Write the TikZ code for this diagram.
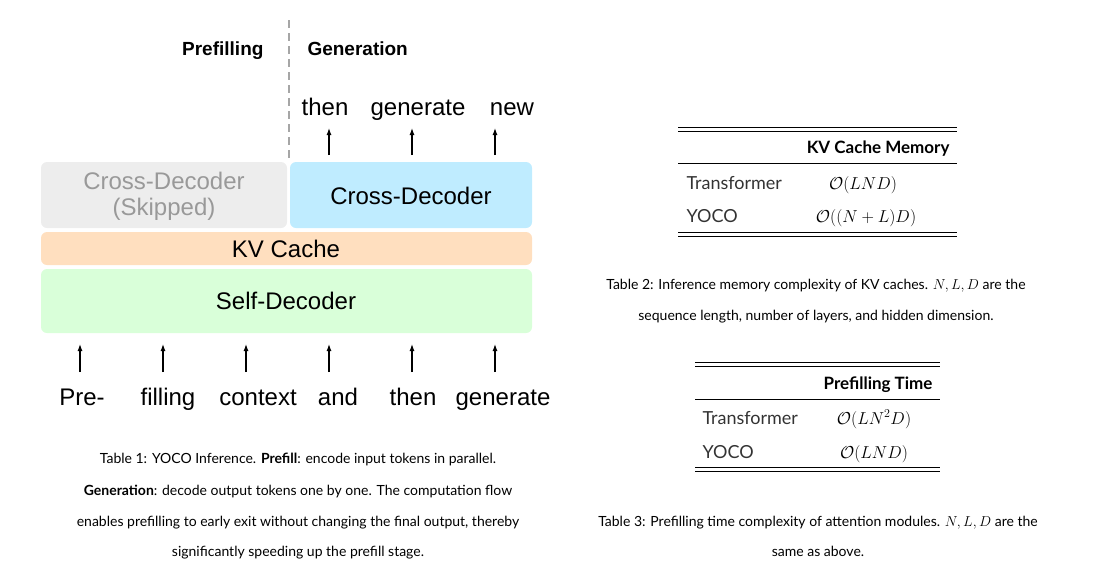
\documentclass[tikz,border=0pt]{standalone}
\usetikzlibrary{arrows.meta}
\usepackage{fontspec}
\setmainfont{Lato}
\newfontfamily\arial{Liberation Sans}
\begin{document}
\begin{tikzpicture}[x=1pt,y=-1pt,
  dtxt/.style={font=\arial\fontsize{24}{26}\selectfont},
  wtxt/.style={font=\arial\fontsize{24}{26}\selectfont,anchor=base},
  captxt/.style={font=\fontsize{14}{16}\selectfont,anchor=base},
  ttxt/.style={font=\fontsize{18}{20}\selectfont,anchor=base},
  arr/.style={-{Latex[length=7pt,width=5pt]},line width=1.2pt}]
\useasboundingbox (0,0) rectangle (1097,582);
% boxes
\fill[fill=black!7,rounded corners=6pt] (41,162) rectangle (287,228);
\node[dtxt,text=black!40,align=center] (skip) at (164,196) {Cross-Decoder\\(Skipped)};
\fill[fill=blue!30!cyan!25!white,rounded corners=6pt] (290,162) rectangle (532,228);
\node[dtxt] (cross) at (411,196) {Cross-Decoder};
\fill[fill=orange!25!white,rounded corners=6pt] (41,232) rectangle (532,265);
\node[dtxt] (kv) at (286,249) {KV Cache};
\fill[fill=green!15!white,rounded corners=6pt] (41,269) rectangle (532,333);
\node[dtxt] (self) at (286,301) {Self-Decoder};
\draw[gray!70,line width=1.5pt,dash pattern=on 8pt off 5pt] (289,20) -- (289,160);
\node[font=\arial\bfseries\fontsize{19}{20}\selectfont,anchor=base east] (pf) at (267,55) {Prefilling};
\node[font=\arial\bfseries\fontsize{19}{20}\selectfont,anchor=base west] (gen) at (304,55) {Generation};
% bottom words
\foreach \n/\x/\w in {a/82/Pre-,b/168/filling,c/258/context,d/338/and,e/413/then,f/503/generate}
  \node[wtxt] (w\n) at (\x,405) {\w};
\foreach \x in {80,163,246,329,412,495}
  \draw[arr] (\x,372) -- (\x,344);
% top words
\foreach \n/\x/\w in {a/325/then,b/418/generate,c/512/new}
  \node[wtxt] (t\n) at (\x,115) {\w};
\foreach \x in {329,412,495}
  \draw[arr] (\x,155) -- (\x,128);
% caption 1
\node[captxt] (c1a) at (298,463) {Table 1: YOCO Inference. \textbf{Prefill}: encode input tokens in parallel.};
\node[captxt] (c1b) at (298,495) {\textbf{Generation}: decode output tokens one by one. The computation flow};
\node[captxt] (c1c) at (298,526) {enables prefilling to early exit without changing the final output, thereby};
\node[captxt] (c1d) at (298,556) {significantly speeding up the prefill stage.};
% table 2
\draw[line width=0.7pt] (678,127) -- (957,127) (678,131) -- (957,131) (678,163) -- (957,163)
  (678,232) -- (957,232) (678,236) -- (957,236);
\node[ttxt,font=\bfseries\fontsize{17}{20}\selectfont,anchor=base east] (h2) at (953,153) {KV Cache Memory};
\node[ttxt,anchor=base west,text=black!80] (r21) at (683,189) {Transformer};
\node[ttxt,anchor=base west,text=black!80] (r22) at (683,222) {YOCO};
\node[ttxt] (m21) at (863,189) {$\mathcal{O}(LND)$};
\node[ttxt] (m22) at (866,222) {$\mathcal{O}((N+L)D)$};
\node[captxt] (c2a) at (816,289) {Table 2: Inference memory complexity of KV caches. $N,L,D$ are the};
\node[captxt] (c2b) at (816,320) {sequence length, number of layers, and hidden dimension.};
% table 3
\draw[line width=0.7pt] (695,362) -- (940,362) (695,366) -- (940,366) (695,399) -- (940,399)
  (695,467) -- (940,467) (695,471) -- (940,471);
\node[ttxt,font=\bfseries\fontsize{17}{20}\selectfont,anchor=base east] (h3) at (936,389) {Prefilling Time};
\node[ttxt,anchor=base west,text=black!80] (r31) at (699,424) {Transformer};
\node[ttxt,anchor=base west,text=black!80] (r32) at (699,458) {YOCO};
\node[ttxt] (m31) at (874,424) {$\mathcal{O}(LN^2D)$};
\node[ttxt] (m32) at (874,458) {$\mathcal{O}(LND)$};
\node[captxt] (c3a) at (818,526) {Table 3: Prefilling time complexity of attention modules. $N,L,D$ are the};
\node[captxt] (c3b) at (818,556) {same as above.};
\end{tikzpicture}
\end{document}
